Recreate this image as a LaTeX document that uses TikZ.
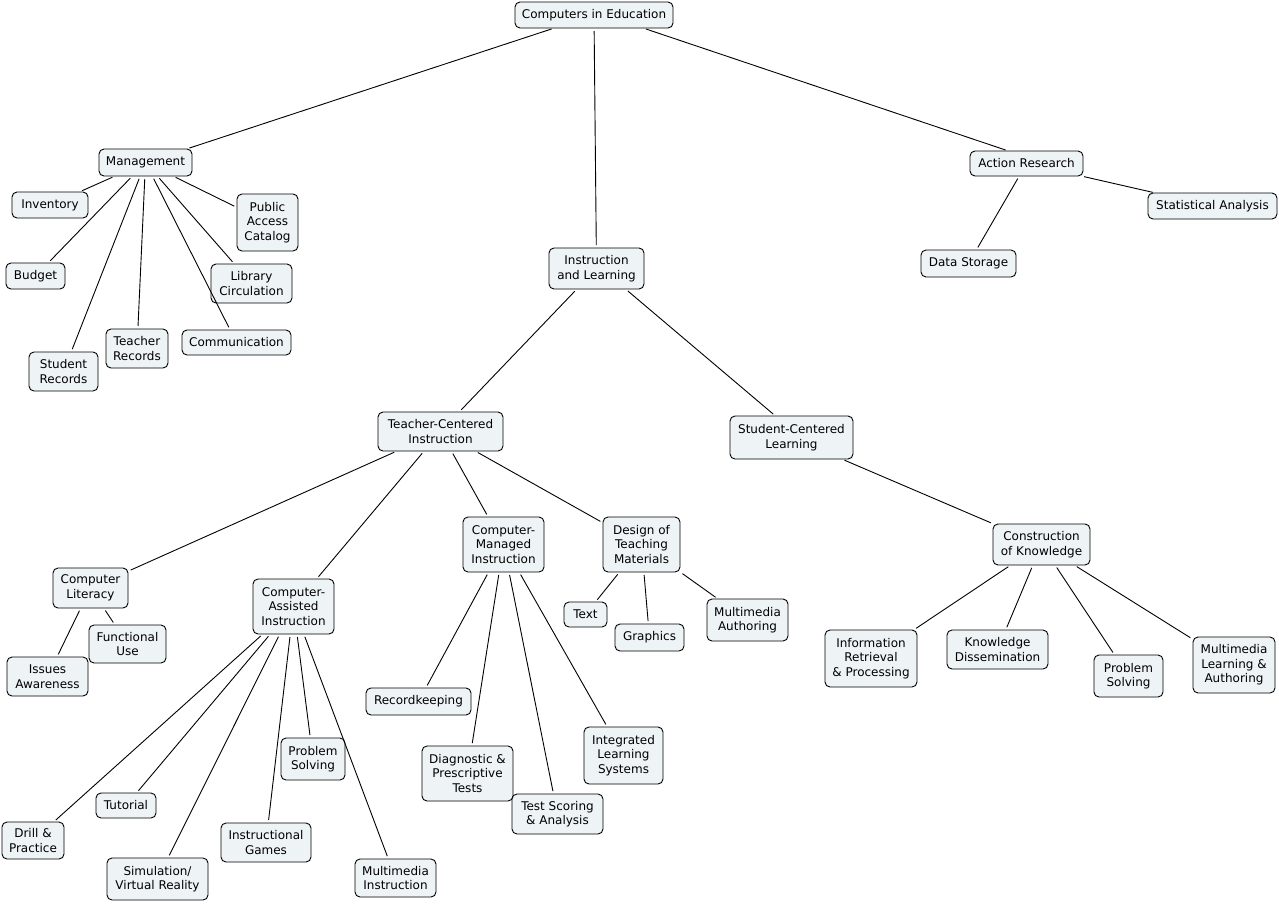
\documentclass[tikz,border=0pt]{standalone}
\usepackage{fontspec}
\usetikzlibrary{calc}
\setmainfont{DejaVu Sans}
\definecolor{boxfill}{HTML}{EEF3F5}
\tikzset{
  box/.style={draw=black, line width=0.9pt, rounded corners=5pt, fill=boxfill,
    inner sep=0pt, outer sep=0pt, align=center,
    font=\fontsize{12}{14.5}\selectfont},
  link/.style={draw=black, line width=0.9pt, shorten <=3pt, shorten >=3pt}
}
\newcommand{\bx}[6]{% name, left, top, right, bottom, text
  \pgfmathsetmacro{\cxx}{(#2+#4)/2}\pgfmathsetmacro{\cyy}{(#3+#5)/2}
  \pgfmathsetmacro{\ww}{#4-#2}\pgfmathsetmacro{\hh}{#5-#3}
  \node[box, minimum width=\ww pt, minimum height=\hh pt] (#1) at (\cxx,\cyy) {#6};}
\begin{document}
\begin{tikzpicture}[x=1pt,y=-1pt]
\useasboundingbox (0,0) rectangle (1279,903);
\fill[white] (0,0) rectangle (1279,903);
\bx{root}{515}{2}{673}{28}{Computers in Education}
\bx{mgmt}{99}{149}{192}{176}{Management}
\bx{ar}{970}{151}{1083}{176}{Action Research}
\bx{il}{549}{248}{644}{289}{Instruction\\and Learning}
\bx{inv}{12}{192}{88}{218}{Inventory}
\bx{pac}{237}{194}{298}{251}{Public\\Access\\Catalog}
\bx{bud}{6}{263}{65}{289}{Budget}
\bx{lc}{211}{264}{292}{303}{Library\\Circulation}
\bx{sr}{29}{352}{98}{391}{Student\\Records}
\bx{tr}{106}{329}{168}{368}{Teacher\\Records}
\bx{comm}{182}{330}{291}{355}{Communication}
\bx{sa}{1148}{193}{1277}{219}{Statistical Analysis}
\bx{ds}{921}{250}{1016}{277}{Data Storage}
\bx{tci}{378}{412}{503}{451}{Teacher-Centered\\Instruction}
\bx{scl}{730}{416}{853}{459}{Student-Centered\\Learning}
\bx{cl}{53}{568}{128}{608}{Computer\\Literacy}
\bx{cai}{253}{579}{334}{634}{Computer-\\Assisted\\Instruction}
\bx{cmi}{463}{517}{544}{572}{Computer-\\Managed\\Instruction}
\bx{dtm}{603}{517}{680}{572}{Design of\\Teaching\\Materials}
\bx{ck}{993}{524}{1090}{565}{Construction\\of Knowledge}
\bx{fu}{89}{625}{166}{663}{Functional\\Use}
\bx{ia}{7}{657}{88}{696}{Issues\\Awareness}
\bx{text}{564}{602}{607}{627}{Text}
\bx{gr}{615}{624}{684}{651}{Graphics}
\bx{mma}{707}{599}{788}{641}{Multimedia\\Authoring}
\bx{rk}{366}{688}{471}{715}{Recordkeeping}
\bx{diag}{422}{746}{513}{801}{Diagnostic \&\\Prescriptive\\Tests}
\bx{tsa}{512}{794}{603}{834}{Test Scoring\\\& Analysis}
\bx{ils}{584}{727}{663}{784}{Integrated\\Learning\\Systems}
\bx{irp}{825}{630}{917}{687}{Information\\Retrieval\\\& Processing}
\bx{kd}{947}{630}{1048}{669}{Knowledge\\Dissemination}
\bx{psb}{1094}{655}{1163}{697}{Problem\\Solving}
\bx{mla}{1193}{637}{1275}{693}{Multimedia\\Learning \&\\Authoring}
\bx{psa}{281}{738}{345}{780}{Problem\\Solving}
\bx{tut}{96}{793}{156}{818}{Tutorial}
\bx{drill}{2}{822}{64}{859}{Drill \&\\Practice}
\bx{sim}{107}{858}{208}{900}{Simulation/\\Virtual Reality}
\bx{games}{221}{823}{311}{862}{Instructional\\Games}
\bx{mmi}{355}{859}{436}{897}{Multimedia\\Instruction}
\foreach \a/\b in {root/mgmt,root/il,
  mgmt/inv,mgmt/pac,mgmt/bud,mgmt/lc,mgmt/sr,mgmt/tr,mgmt/comm,
  ar/sa,ar/ds,il/tci,tci/cl,tci/cai,tci/cmi,tci/dtm,scl/ck,
  cl/fu,cl/ia,cai/drill,cai/tut,cai/sim,cai/games,cai/psa,cai/mmi,
  cmi/rk,cmi/diag,cmi/tsa,cmi/ils,dtm/text,dtm/gr,dtm/mma,
  ck/irp,ck/kd,ck/psb,ck/mla}
  \draw[link] (\a) -- (\b);
\draw[link] ($(root.south)+(49,0)$) -- ($(ar.north)+(-18,0)$);
\draw[link] ($(il.south)+(29,0)$) -- ($(scl.north)+(-16,0)$);
\end{tikzpicture}
\end{document}
